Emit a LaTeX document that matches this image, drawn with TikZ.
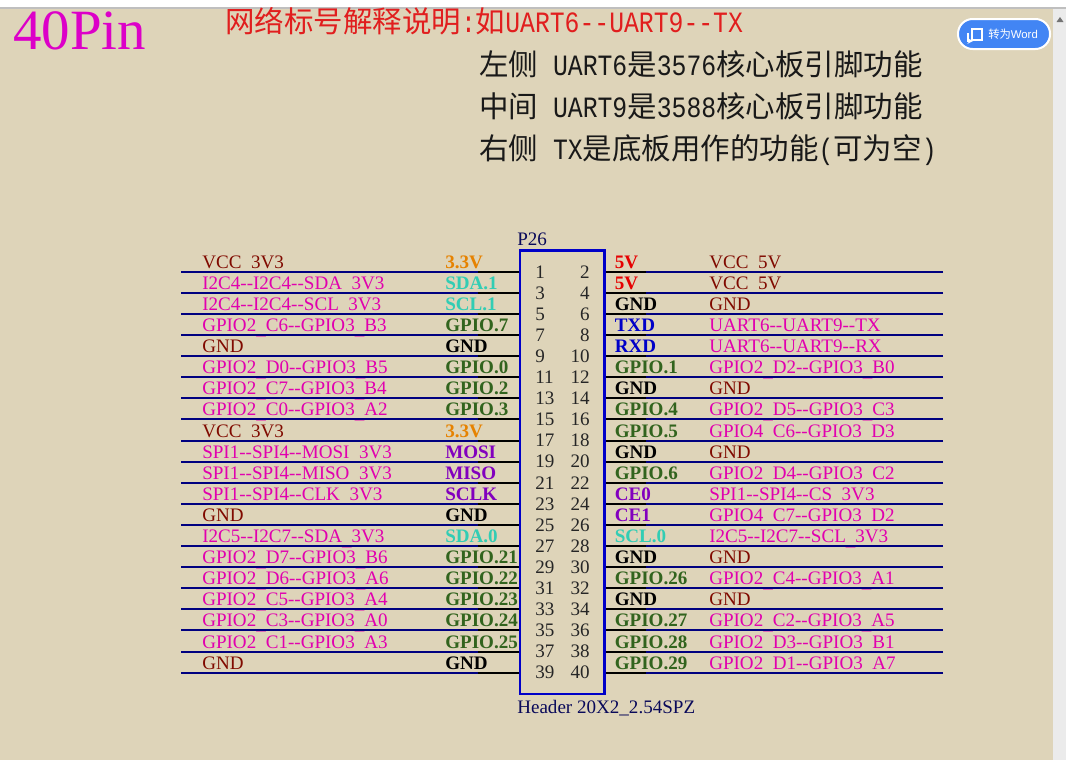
\documentclass[tikz,border=0pt]{standalone}
\usepackage{fontspec}
\newfontfamily\netf{Liberation Serif}
\newfontfamily\cjkf{Noto Sans CJK SC}
\newfontfamily\halff[FakeStretch=0.84]{Liberation Mono}
\newfontfamily\btnf{Liberation Sans}
\definecolor{pagebg}{RGB}{222,212,185}
\definecolor{wireblue}{RGB}{0,0,128}
\definecolor{boxblue}{RGB}{0,0,200}
\definecolor{txtblue}{RGB}{10,10,90}
\definecolor{netbrown}{RGB}{128,10,0}
\definecolor{netmag}{RGB}{225,0,175}
\definecolor{funcorange}{RGB}{230,130,0}
\definecolor{functeal}{RGB}{50,205,180}
\definecolor{funcgreen}{RGB}{50,100,30}
\definecolor{funcpurple}{RGB}{130,0,190}
\definecolor{funcblue}{RGB}{0,0,200}
\definecolor{funcred}{RGB}{230,0,0}
\definecolor{btnblue}{RGB}{66,133,244}
\tikzset{
  netname/.style={anchor=base west, inner sep=0pt, font=\netf\fontsize{14.3}{16}\selectfont},
  netfunc/.style={anchor=base west, inner sep=0pt, font=\netf\fontsize{14.3}{16}\selectfont\bfseries},
  pinnum/.style={inner sep=0pt, text=black!85, font=\netf\fontsize{14.3}{16}\selectfont},
  netwire/.style={draw=wireblue, line width=1.5pt},
  stubwire/.style={draw=black, line width=1.5pt},
  headtxt/.style={anchor=base west, inner sep=0pt, font=\fontsize{22.1}{26}\selectfont},
}
\newcommand{\hz}[1]{{\cjkf #1}}
\newcommand{\hl}[1]{{\halff #1}}
\newcommand{\us}{\raisebox{-1.9pt}{\_}}
\newcommand{\leftpin}[5]{%
  \pgfmathsetmacro{\rowy}{271.7+21.1*(#1-1)/2}
  \coordinate (la#1) at (181,\rowy);
  \coordinate (lb#1) at (478,\rowy);
  \node[netname, text=#2] (ln#1) at (202,\rowy-3.5) {#3};
  \node[netfunc, text=#4] (lf#1) at (445,\rowy-3.5) {#5};
  \node[pinnum, anchor=base west] (pn#1) at (535,\rowy+6.3) {#1};
  \draw[stubwire] (lb#1) -- (P26.west |- lb#1);
  \draw[netwire] (la#1) -- (lb#1);
}
\newcommand{\rightpin}[5]{%
  \pgfmathsetmacro{\rowy}{271.7+21.1*(#1-2)/2}
  \coordinate (ra#1) at (943,\rowy);
  \coordinate (rb#1) at (646,\rowy);
  \node[netfunc, text=#2] (rf#1) at (614.5,\rowy-3.5) {#3};
  \node[netname, text=#4] (rn#1) at (709,\rowy-3.5) {#5};
  \node[pinnum, anchor=base east] (pn#1) at (590,\rowy+6.3) {#1};
  \draw[stubwire] (rb#1) -- (P26.east |- rb#1);
  \draw[netwire] (ra#1) -- (rb#1);
}
\begin{document}
\begin{tikzpicture}[x=0.75pt, y=-0.75pt]
  \useasboundingbox (0,0) rectangle (1066,760);
  \fill[pagebg] (0,0) rectangle (1066,760);
  \fill[white] (0,0) rectangle (1066,7);
  \fill[black!25] (0,7) rectangle (1066,8.5);
  \fill[black!8] (1053,8.5) rectangle (1066,760);
  \fill[black!55] (1060,17) -- (1063.5,22) -- (1056.5,22) -- cycle;

  \node[anchor=base west, inner sep=0pt, text={rgb,255:red,220;green,0;blue,200}, font=\netf\fontsize{42.7}{48}\selectfont] (title40) at (13,49) {40Pin};
  \node[headtxt, text={rgb,255:red,225;green,30;blue,30}] (head0) at (225,32) {\hz{网络标号解释说明}\hl{:}\hz{如}\hl{UART6--UART9--TX}};
  \node[headtxt, text=black!90] (head1) at (479,75) {\hz{左侧}\hl{\ UART6}\hz{是}\hl{3576}\hz{核心板引脚功能}};
  \node[headtxt, text=black!90] (head2) at (479,117) {\hz{中间}\hl{\ UART9}\hz{是}\hl{3588}\hz{核心板引脚功能}};
  \node[headtxt, text=black!90] (head3) at (479,159) {\hz{右侧}\hl{\ TX}\hz{是底板用作的功能}\hl{(}\hz{可为空}\hl{)}};

  \node[draw=white, line width=1.5pt, fill=btnblue, rounded corners=11pt, minimum width=69pt, minimum height=22.5pt, inner sep=0pt] (btn) at (1004,34) {};
  \node[anchor=base west, inner sep=0pt, text=white, font=\fontsize{8.5}{10}\selectfont] (btntxt) at (988,38) {\hz{转为}{\btnf Word}};
  \draw[white, line width=0.8pt] (972,29) rectangle (982,40);
  \draw[white, line width=0.8pt, ->, >=stealth] (968,33) -- (968,41) -- (973,41);

  \node[draw=boxblue, line width=1.9pt, minimum width=63.4pt, minimum height=332.5pt, inner sep=0pt] (P26) at (562.25,472.3) {};
  \node[netname, text=txtblue] (refdes) at (517,245) {P26};
  \node[netname, text=txtblue] (partname) at (517,713) {Header 20X2\_2.54SPZ};

  \leftpin{1}{netbrown}{VCC\us 3V3}{funcorange}{3.3V}
  \leftpin{3}{netmag}{I2C4--I2C4--SDA\us 3V3}{functeal}{SDA.1}
  \leftpin{5}{netmag}{I2C4--I2C4--SCL\us 3V3}{functeal}{SCL.1}
  \leftpin{7}{netmag}{GPIO2\us C6--GPIO3\us B3}{funcgreen}{GPIO.7}
  \leftpin{9}{netbrown}{GND}{black}{GND}
  \leftpin{11}{netmag}{GPIO2\us D0--GPIO3\us B5}{funcgreen}{GPIO.0}
  \leftpin{13}{netmag}{GPIO2\us C7--GPIO3\us B4}{funcgreen}{GPIO.2}
  \leftpin{15}{netmag}{GPIO2\us C0--GPIO3\us A2}{funcgreen}{GPIO.3}
  \leftpin{17}{netbrown}{VCC\us 3V3}{funcorange}{3.3V}
  \leftpin{19}{netmag}{SPI1--SPI4--MOSI\us 3V3}{funcpurple}{MOSI}
  \leftpin{21}{netmag}{SPI1--SPI4--MISO\us 3V3}{funcpurple}{MISO}
  \leftpin{23}{netmag}{SPI1--SPI4--CLK\us 3V3}{funcpurple}{SCLK}
  \leftpin{25}{netbrown}{GND}{black}{GND}
  \leftpin{27}{netmag}{I2C5--I2C7--SDA\us 3V3}{functeal}{SDA.0}
  \leftpin{29}{netmag}{GPIO2\us D7--GPIO3\us B6}{funcgreen}{GPIO.21}
  \leftpin{31}{netmag}{GPIO2\us D6--GPIO3\us A6}{funcgreen}{GPIO.22}
  \leftpin{33}{netmag}{GPIO2\us C5--GPIO3\us A4}{funcgreen}{GPIO.23}
  \leftpin{35}{netmag}{GPIO2\us C3--GPIO3\us A0}{funcgreen}{GPIO.24}
  \leftpin{37}{netmag}{GPIO2\us C1--GPIO3\us A3}{funcgreen}{GPIO.25}
  \leftpin{39}{netbrown}{GND}{black}{GND}

  \rightpin{2}{funcred}{5V}{netbrown}{VCC\us 5V}
  \rightpin{4}{funcred}{5V}{netbrown}{VCC\us 5V}
  \rightpin{6}{black}{GND}{netbrown}{GND}
  \rightpin{8}{funcblue}{TXD}{netmag}{UART6--UART9--TX}
  \rightpin{10}{funcblue}{RXD}{netmag}{UART6--UART9--RX}
  \rightpin{12}{funcgreen}{GPIO.1}{netmag}{GPIO2\us D2--GPIO3\us B0}
  \rightpin{14}{black}{GND}{netbrown}{GND}
  \rightpin{16}{funcgreen}{GPIO.4}{netmag}{GPIO2\us D5--GPIO3\us C3}
  \rightpin{18}{funcgreen}{GPIO.5}{netmag}{GPIO4\us C6--GPIO3\us D3}
  \rightpin{20}{black}{GND}{netbrown}{GND}
  \rightpin{22}{funcgreen}{GPIO.6}{netmag}{GPIO2\us D4--GPIO3\us C2}
  \rightpin{24}{funcpurple}{CE0}{netmag}{SPI1--SPI4--CS\us 3V3}
  \rightpin{26}{funcpurple}{CE1}{netmag}{GPIO4\us C7--GPIO3\us D2}
  \rightpin{28}{functeal}{SCL.0}{netmag}{I2C5--I2C7--SCL\us 3V3}
  \rightpin{30}{black}{GND}{netbrown}{GND}
  \rightpin{32}{funcgreen}{GPIO.26}{netmag}{GPIO2\us C4--GPIO3\us A1}
  \rightpin{34}{black}{GND}{netbrown}{GND}
  \rightpin{36}{funcgreen}{GPIO.27}{netmag}{GPIO2\us C2--GPIO3\us A5}
  \rightpin{38}{funcgreen}{GPIO.28}{netmag}{GPIO2\us D3--GPIO3\us B1}
  \rightpin{40}{funcgreen}{GPIO.29}{netmag}{GPIO2\us D1--GPIO3\us A7}
\end{tikzpicture}
\end{document}
